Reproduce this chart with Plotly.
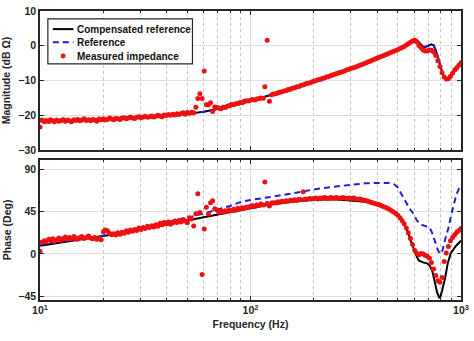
import plotly.graph_objects as go

# ---------------- data ----------------
FREQ = [10.0, 10.2, 10.5, 10.7, 11.0, 11.2, 11.5, 11.7, 12.0, 12.3,
        12.6, 12.9, 13.2, 13.5, 13.8, 14.1, 14.5, 14.8, 15.1, 15.5,
        15.8, 16.2, 16.6, 17.0, 17.4, 17.8, 18.2, 18.6, 19.1, 19.5,
        20.0, 20.4, 20.9, 21.4, 21.9, 22.4, 22.9, 23.4, 24.0, 24.5,
        25.1, 25.7, 26.3, 26.9, 27.5, 28.2, 28.8, 29.5, 30.2, 30.9,
        31.6, 32.4, 33.1, 33.9, 34.7, 35.5, 36.3, 37.2, 38.0, 38.9,
        39.8, 40.7, 41.7, 42.7, 43.7, 44.7, 45.7, 46.8, 47.9, 49.0,
        50.1, 51.3, 52.5, 53.7, 55.0, 56.2, 57.5, 58.9, 60.3, 61.7,
        63.1, 64.6, 66.1, 67.6, 69.2, 70.8, 72.4, 74.1, 75.9, 77.6,
        79.4, 81.3, 83.2, 85.1, 87.1, 89.1, 91.2, 93.3, 95.5, 97.7,
        100, 102, 105, 107, 110, 112, 115, 117, 120, 123,
        126, 129, 132, 135, 138, 141, 145, 148, 151, 155,
        158, 162, 166, 170, 174, 178, 182, 186, 191, 195,
        200, 204, 209, 214, 219, 224, 229, 234, 240, 245,
        251, 257, 263, 269, 275, 282, 288, 295, 302, 309,
        316, 324, 331, 339, 347, 355, 363, 372, 380, 389,
        398, 407, 417, 427, 437, 447, 457, 468, 479, 490,
        501, 513, 525, 537, 550, 562, 575, 589, 603, 617,
        631, 646, 661, 676, 692, 708, 724, 741, 759, 776,
        794, 813, 832, 851, 871, 891, 912, 933, 955, 977,
        1000]

MEAS_MAG = [-23.4, -21.4, -21.9, -21.5, -21.8, -21.3, -21.6, -21.9, -21.4, -21.7,
            -21.5, -21.2, -21.7, -21.4, -21.6, -21.9, -21.3, -21.5, -21.2, -21.6,
            -21.4, -21.0, -21.5, -21.3, -21.6, -21.2, -21.4, -21.7, -21.1, -21.3,
            -21.0, -21.4, -21.2, -20.8, -21.1, -21.3, -20.9, -21.0, -21.2, -20.8,
            -20.7, -21.0, -20.8, -20.5, -20.8, -20.9, -20.6, -20.4, -20.7, -20.5,
            -20.3, -20.6, -20.4, -20.2, -20.5, -20.3, -20.0, -20.2, -20.4, -19.9,
            -20.1, -19.8, -20.0, -19.7, -19.9, -19.6, -19.8, -19.5, -19.3, -19.7,
            -19.2, -19.4, -19.1, -19.3, -17.7, -15.2, -13.8, -15.2, -7.3, -17.0,
            -17.0, -16.4, -18.9, -17.6, -17.8, -17.9, -18.1, -17.7, -17.8, -17.4,
            -17.2, -16.9, -17.0, -16.7, -16.6, -16.3, -16.4, -16.0, -15.8, -15.9,
            -15.7, -15.5, -15.6, -15.3, -15.2, -15.0, -15.1, -11.8, 1.6, -16.0,
            -14.1, -13.9, -13.8, -13.5, -13.4, -13.2, -13.0, -12.9, -12.6, -12.5,
            -12.2, -12.1, -11.8, -11.7, -11.4, -11.3, -11.0, -10.8, -10.7, -10.4,
            -10.2, -10.1, -9.8, -9.7, -9.4, -9.3, -9.0, -8.9, -8.6, -8.4,
            -8.2, -8.0, -7.8, -7.6, -7.4, -7.1, -6.9, -6.7, -6.5, -6.3,
            -6.1, -5.8, -5.6, -5.4, -5.1, -4.9, -4.6, -4.4, -4.1, -3.9,
            -3.6, -3.4, -3.1, -2.9, -2.6, -2.4, -2.1, -1.9, -1.6, -1.4,
            -1.1, -0.8, -0.5, -0.2, 0.2, 0.6, 1.0, 1.4, 1.5, 1.1,
            0.1, -0.6, -1.2, -1.5, -1.5, -1.2, -1.3, -1.8, -2.8, -4.3,
            -6.0, -7.8, -9.0, -9.6, -9.5, -8.8, -7.9, -7.0, -6.3, -5.6,
            -4.9]

MEAS_PH = [2.8, 12.5, 14.0, 13.0, 15.5, 14.5, 16.0, 13.5, 15.0, 17.0,
           14.5, 16.5, 18.0, 15.5, 17.5, 16.0, 18.5, 17.0, 15.5, 17.5,
           18.5, 16.5, 17.5, 19.0, 17.0, 16.0, 17.5, 15.5, 16.5, 15.0,
           23.5, 25.5, 24.5, 22.0, 20.5, 21.5, 20.0, 22.5, 21.0, 23.0,
           22.0, 24.5, 23.0, 25.5, 24.0, 26.0, 25.0, 27.5, 26.0, 28.0,
           27.0, 29.5, 28.0, 30.0, 28.5, 31.0, 29.5, 32.5, 31.0, 33.5,
           32.0, 34.0, 31.5, 33.0, 35.0, 33.5, 35.5, 34.0, 36.5, 35.0,
           33.0, 38.5, 37.0, 29.8, 42.6, 64.0, 44.0, -22.0, 26.5, 49.5,
           42.5, 54.5, 56.5, 48.0, 47.0, 44.0, 45.5, 44.5, 46.0, 45.0,
           47.0, 46.0, 47.5, 46.5, 48.5, 47.5, 49.0, 48.5, 49.5, 50.0,
           50.5, 51.5, 50.5, 52.0, 51.5, 53.0, 52.0, 76.5, 53.5, 51.0,
           54.0, 54.5, 54.0, 55.5, 55.0, 56.0, 55.5, 56.5, 56.0, 57.0,
           56.5, 57.5, 57.0, 58.0, 57.5, 66.0, 58.5, 58.0, 59.0, 58.5,
           59.0, 59.5, 58.5, 59.5, 59.0, 60.0, 59.5, 59.0, 60.0, 59.5,
           59.5, 60.0, 59.0, 59.5, 60.0, 59.5, 59.0, 59.5, 59.0, 59.5,
           58.5, 58.0, 58.5, 57.5, 57.0, 56.5, 56.0, 55.0, 54.5, 53.5,
           53.0, 52.5, 51.5, 50.5, 49.5, 48.5, 47.5, 46.0, 44.5, 43.0,
           41.0, 38.5, 35.5, 32.0, 27.5, 22.5, 16.5, 10.0, 4.0, 0.5,
           -1.0, 0.5, 0.0, -1.5, -2.5, -4.5, -9.0, -16.0, -23.0, -28.5,
           -30.0, -25.0, -8.0, 1.0, 8.0, 14.0, 17.5, 20.5, 23.0, 25.0,
           27.0]

# reference curves (magnitude)
MAG_F = [10, 15, 20, 30, 40, 50, 60, 70, 80, 90, 100, 120, 150, 200, 250, 300, 350,
         400, 450, 500, 540, 570, 590, 603, 617, 631, 646, 661, 676, 692, 708, 724,
         741, 759, 776, 794, 813, 832, 851, 871, 891, 912, 933, 955, 977, 1000]
COMP_MAG = [-21.7, -21.4, -21.1, -20.6, -20.1, -19.6, -19.0, -18.3, -17.5, -16.7, -15.9,
            -14.6, -12.9, -10.5, -8.5, -6.6, -5.1, -3.8, -2.6, -1.3, -0.1, 1.0, 1.8,
            2.0, 1.6, 0.9, 0.3, -0.3, -0.4, -0.1, 0.3, 0.4, 0.1, -1.3, -3.2, -5.5,
            -7.5, -9.0, -9.6, -9.7, -9.0, -8.0, -7.0, -6.2, -5.6, -5.0]
REF_MAG = [-21.7, -21.4, -21.1, -20.6, -20.1, -19.6, -19.0, -18.3, -17.5, -16.7, -15.9,
           -14.6, -12.9, -10.5, -8.5, -6.6, -5.1, -3.8, -2.6, -1.3, -0.1, 1.0, 1.8,
           1.9, 1.5, 0.8, 0.3, -0.2, -0.3, 0.0, 0.4, 0.5, 0.2, -1.2, -3.2, -5.6,
           -7.6, -9.1, -9.7, -9.6, -8.9, -8.0, -7.0, -6.2, -5.6, -5.0]

# reference curves (phase)
COMP_F = [10, 12, 15, 20, 25, 30, 40, 50, 60, 70, 80, 100, 120, 150, 200, 250, 300,
          350, 400, 450, 500, 530, 555, 580, 605, 630, 660, 690, 710, 730, 750, 770,
          790, 800, 815, 840, 865, 895, 950, 1000]
COMP_PH = [8.7, 11.5, 14.5, 19.0, 22.5, 26.0, 31.5, 35.5, 39.0, 42.0, 44.5, 49.0, 52.0,
           55.0, 57.5, 58.0, 57.0, 55.5, 52.0, 47.5, 41.5, 35.0, 25.0, 13.0, 1.0, -7.0,
           -9.0, -10.0, -12.5, -18.0, -30.0, -41.0, -47.0, -45.0, -38.0, -26.0, -10.0,
           1.0, 9.0, 14.0]
REF_F = [10, 12, 15, 20, 25, 30, 40, 50, 60, 70, 80, 92, 100, 120, 150, 200, 250, 300,
         350, 400, 450, 480, 500, 520, 545, 570, 594, 615, 640, 680, 710, 730, 755, 780,
         795, 815, 840, 870, 900, 950, 1000]
REF_PH = [10.0, 12.5, 15.5, 19.5, 23.5, 27.5, 33.0, 38.5, 43.0, 47.0, 51.0, 56.0, 57.5,
          60.0, 63.5, 68.5, 71.5, 73.5, 75.0, 75.5, 75.5, 74.0, 71.0, 64.0, 55.0, 48.0,
          43.0, 36.0, 31.5, 29.5, 28.0, 22.0, 11.0, 3.0, 0.0, 3.0, 15.0, 27.0, 42.0,
          63.0, 74.0]

NAMES = ["Compensated reference", "Reference", "Measured impedance"]
MAG_TICKS = [10, 0, -10, -20, -30]
PH_TICKS = [90, 45, 0, -45]
X_TICKS = [10, 100, 1000]
X_TICKTEXT = ["10<sup>1</sup>", "10<sup>2</sup>", "10<sup>3</sup>"]
X_MINOR = [20, 30, 40, 50, 60, 70, 80, 90, 200, 300, 400, 500, 600, 700, 800, 900]

# ---------------- figure ----------------
BLACK = "#000000"
BLUE = "#1f1fd6"
RED = "#ee1111"
DASH = "6px,4px"

fig = go.Figure()
fig.add_trace(go.Scatter(x=MAG_F, y=COMP_MAG, mode="lines", name=NAMES[0],
                         line=dict(color=BLACK, width=2), xaxis="x", yaxis="y"))
fig.add_trace(go.Scatter(x=MAG_F, y=REF_MAG, mode="lines", name=NAMES[1],
                         line=dict(color=BLUE, width=2, dash=DASH), xaxis="x", yaxis="y"))
fig.add_trace(go.Scatter(x=FREQ, y=MEAS_MAG, mode="markers", name=NAMES[2],
                         marker=dict(color=RED, size=5, line=dict(width=0)),
                         xaxis="x", yaxis="y"))
fig.add_trace(go.Scatter(x=COMP_F, y=COMP_PH, mode="lines", name=NAMES[0],
                         line=dict(color=BLACK, width=2), xaxis="x2", yaxis="y2"))
fig.add_trace(go.Scatter(x=REF_F, y=REF_PH, mode="lines", name=NAMES[1],
                         line=dict(color=BLUE, width=2, dash=DASH), xaxis="x2", yaxis="y2"))
fig.add_trace(go.Scatter(x=FREQ, y=MEAS_PH, mode="markers", name=NAMES[2],
                         marker=dict(color=RED, size=5, line=dict(width=0)),
                         xaxis="x2", yaxis="y2"))

AX = "#262626"
GRID = "#dedede"
MINOR_GRID = "#c4c4c4"
TICKFONT = dict(size=10.5, color=AX, weight="bold")
TITLEFONT = dict(size=10.5, color=AX, weight="bold")

xcommon = dict(type="log", range=[1, 3], showline=True, linecolor=AX, linewidth=1.5,
               mirror="ticks", ticks="inside", ticklen=4, tickcolor=AX,
               tickvals=X_TICKS, showgrid=True, gridcolor=GRID, gridwidth=1,
               tickfont=TICKFONT,
               minor=dict(tickvals=X_MINOR, ticks="inside", ticklen=2, tickcolor=AX,
                          showgrid=True, gridcolor=MINOR_GRID, griddash="dot", gridwidth=1),
               zeroline=False)
ycommon = dict(showline=True, linecolor=AX, linewidth=1.5, mirror="ticks",
               ticks="inside", ticklen=4, tickcolor=AX, showgrid=True,
               gridcolor=GRID, gridwidth=1, zeroline=False, tickfont=TICKFONT)

# ---- legend drawn as a box in paper coordinates (compact like MATLAB) ----
L, R, T, B = 37, 9, 5, 41
PW, PH = 474 - L - R, 341 - T - B


def px(xp):
    return (xp - L) / PW


def py(yp):
    return (341 - B - yp) / PH


shapes = [dict(type="rect", xref="paper", yref="paper", x0=px(45), x1=px(192),
               y0=py(59), y1=py(13), line=dict(color=AX, width=1.2), fillcolor="white",
               layer="above")]
rows = [23.5, 37.0, 51.0]
shapes.append(dict(type="line", xref="paper", yref="paper", x0=px(50), x1=px(71),
                   y0=py(rows[0]), y1=py(rows[0]), line=dict(color=BLACK, width=2),
                   layer="above"))
shapes.append(dict(type="line", xref="paper", yref="paper", x0=px(50), x1=px(71),
                   y0=py(rows[1]), y1=py(rows[1]),
                   line=dict(color=BLUE, width=2, dash=DASH), layer="above"))
shapes.append(dict(type="circle", xref="paper", yref="paper", x0=px(58), x1=px(63),
                   y0=py(rows[2] + 2.5), y1=py(rows[2] - 2.5),
                   line=dict(width=0), fillcolor=RED, layer="above"))
annotations = [dict(x=px(73), y=py(r), xref="paper", yref="paper", text=t,
                    showarrow=False, xanchor="left", yanchor="middle",
                    font=dict(size=10, color="#111111", weight="bold"))
               for r, t in zip(rows, NAMES)]

fig.update_layout(
    width=474, height=341,
    margin=dict(l=L, r=R, t=T, b=B),
    paper_bgcolor="white", plot_bgcolor="white",
    font=dict(family="Liberation Sans, Arial, sans-serif", size=10.5, color=AX,
              weight="bold"),
    xaxis=dict(xcommon, domain=[0, 1], anchor="y", showticklabels=False, matches="x2"),
    yaxis=dict(ycommon, domain=[0.519, 1.0], range=[-30, 10], tickvals=MAG_TICKS,
               title=dict(text="Magnitude (dB Ω)", standoff=6, font=TITLEFONT)),
    xaxis2=dict(xcommon, domain=[0, 1], anchor="y2", ticktext=X_TICKTEXT,
                title=dict(text="Frequency (Hz)", standoff=5, font=TITLEFONT)),
    yaxis2=dict(ycommon, domain=[0.0, 0.485], range=[-49, 100], tickvals=PH_TICKS,
                title=dict(text="Phase (Deg)", standoff=5, font=TITLEFONT)),
    shapes=shapes,
    annotations=annotations,
    showlegend=False,
)

fig.write_html("out.html")
